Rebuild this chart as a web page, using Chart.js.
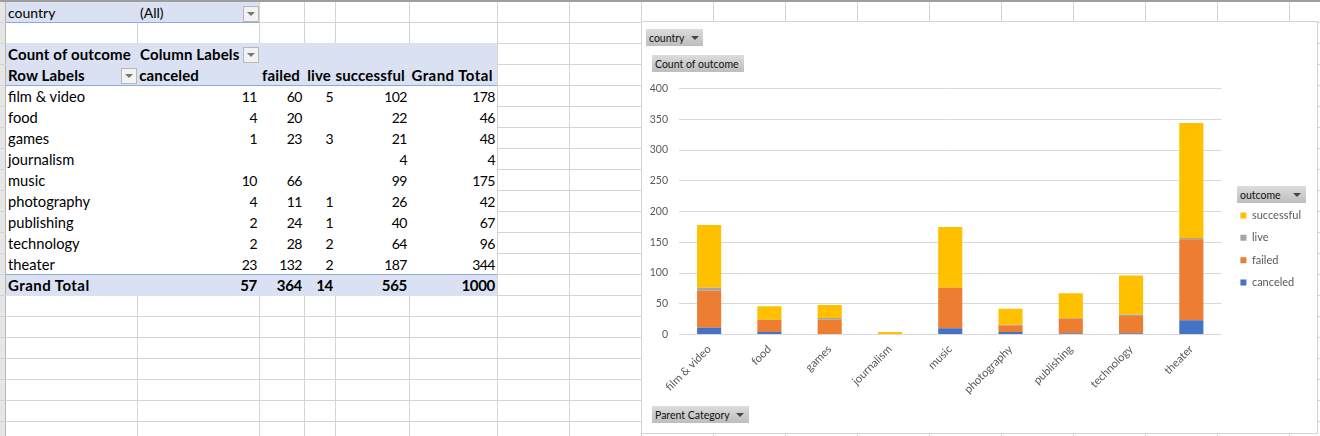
<!DOCTYPE html>
<html>
<head>
<meta charset="utf-8">
<script src="https://cdn.jsdelivr.net/npm/chart.js@4"></script>
<style>
  html, body { margin: 0; padding: 0; background: #fff; }
  body { width: 1320px; height: 436px; overflow: hidden; position: relative; font-family: Lato, sans-serif; }
  .abs { position: absolute; }
  .line { position: absolute; background: #d4d4d4; }
  .cell { position: absolute; height: 21px; line-height: 21px; font-size: 14.7px; color: #000; white-space: nowrap; }
  .cell.b { font-weight: 700; font-size: 15px; letter-spacing: .15px; }
  .cell.w { letter-spacing: .45px; }
  .cell.n { font-size: 14px; letter-spacing: -.5px; }
  .cell.r { text-align: right; }
  .dd { position: absolute; width: 14px; height: 14px; background: #f2f2f2; border: 1px solid #b8b8b8; }
  .dd:after { content: ''; position: absolute; left: 3px; top: 5px; border: 4px solid transparent; border-top: 4px solid #777; }
  .btn { position: absolute; box-sizing: border-box; height: 17px; line-height: 18px; font-size: 10.5px; color: #111; background: linear-gradient(#dcdcdc, #bdbdbd); padding-left: 3px; white-space: nowrap; }
  .btn i { position: absolute; top: 7px; border: 4px solid transparent; border-top: 4px solid #444; }
  #panel { position: absolute; left: 641px; top: 21px; width: 675px; height: 411px; background: #fff; border: 1px solid #d4d4d4; }
  #wrap { position: absolute; left: 642px; top: 22px; width: 674px; height: 410px; }
</style>
</head>
<body>
<div id="sheet"></div>
<div id="panel"></div>
<div class="btn" style="left:646px;top:29px;width:57px">country<i style="left:45px"></i></div>
<div class="btn" style="left:652px;top:55px;width:92px">Count of outcome</div>
<div class="btn" style="left:652px;top:406px;width:97px">Parent Category<i style="left:84px"></i></div>
<div class="btn" style="left:1237px;top:186px;width:69px">outcome<i style="left:56px"></i></div>
<div id="wrap"><canvas id="chart"></canvas></div>
<script>
const categories = ['film & video', 'food', 'games', 'journalism', 'music', 'photography', 'publishing', 'technology', 'theater'];
const canceled = [11, 4, 1, null, 10, 4, 2, 2, 23];
const failed = [60, 20, 23, null, 66, 11, 24, 28, 132];
const live = [5, null, 3, null, null, 1, 1, 2, 2];
const successful = [102, 22, 21, 4, 99, 26, 40, 64, 187];
const rowTotals = [178, 46, 48, 4, 175, 42, 67, 96, 344];
const columnTotals = [57, 364, 14, 565, 1000];

// worksheet background
const sheet = document.getElementById('sheet');
function add(cls, style, text) {
  const d = document.createElement('div');
  d.className = cls;
  d.style.cssText = style;
  if (text !== undefined) d.textContent = text;
  sheet.appendChild(d);
}
add('abs', 'left:0;top:0;width:5px;height:436px;background:#e6e6e6;border-right:1px solid #b5b5b5');
for (let y = 22; y < 436; y += 21) add('line', `left:0;top:${y}px;width:1320px;height:1px`);
[137, 259, 304, 335, 409, 497, 569, 641, 713, 785, 857, 929, 1001, 1073, 1145, 1217, 1289].forEach(x => {
  add('line', `left:${x}px;top:2px;width:1px;height:434px`);
});
add('abs', 'left:0;top:0;width:1320px;height:2px;background:#9e9e9e');

// pivot table bands
add('abs', 'left:6px;top:2px;width:253px;height:20px;background:#d9e1f2;border-bottom:1px solid #8ea9db');
add('abs', 'left:6px;top:43px;width:491px;height:42px;background:#d9e1f2;border-bottom:1px solid #8ea9db');
add('abs', 'left:6px;top:86px;width:491px;height:188px;background:#fff');
add('abs', 'left:6px;top:274px;width:491px;height:21px;background:#d9e1f2;border-top:1px solid #8ea9db');

const headerRight = [199, 300, 331, 405, 493];
const colRight = [257, 302, 333, 407, 495];
add('cell', 'left:8px;top:2px;font-size:14px', 'country');
add('cell', 'left:140px;top:2px;font-size:14px', '(All)');
add('dd', 'left:243px;top:6px');
add('cell b', 'left:8px;top:44px', 'Count of outcome');
add('cell b', 'left:140px;top:44px', 'Column Labels');
add('dd', 'left:243px;top:47px');
add('cell b', 'left:8px;top:65px', 'Row Labels');
add('dd', 'left:121px;top:68px');
['canceled', 'failed', 'live', 'successful', 'Grand Total'].forEach((t, i) => {
  add('cell b r' + (i === 4 ? ' w' : ''), `right:${1320 - headerRight[i]}px;top:65px`, t);
});
categories.forEach((name, i) => {
  const top = 86 + i * 21;
  add('cell', `left:8px;top:${top}px`, name);
  [canceled[i], failed[i], live[i], successful[i], rowTotals[i]].forEach((v, j) => {
    if (v !== null) add('cell n r', `right:${1320 - colRight[j]}px;top:${top}px`, v);
  });
});
add('cell b w', 'left:8px;top:275px', 'Grand Total');
columnTotals.forEach((v, j) => add('cell b r', `right:${1320 - colRight[j]}px;top:275px;letter-spacing:-.3px`, v));

// legend sits lower and further right than the layout puts it
const legendShift = {
  id: 'legendShift',
  afterLayout(chart) {
    const l = chart.legend;
    const w = l.right - l.left;
    const h = l.bottom - l.top;
    l.left = 587;
    l.right = l.left + w;
    l.top = 249 - 22 - h / 2;
    l.bottom = l.top + h;
  }
};

// chart
const bar = (label, data, color) => ({ label, data, backgroundColor: color, stack: 's', categoryPercentage: 1, barPercentage: 0.4 });
new Chart(document.getElementById('chart'), {
  type: 'bar',
  plugins: [legendShift],
  data: {
    labels: categories,
    datasets: [
      bar('canceled', canceled, '#4472c4'),
      bar('failed', failed, '#ed7d31'),
      bar('live', live, '#a5a5a5'),
      bar('successful', successful, '#ffc000')
    ]
  },
  options: {
    responsive: true,
    maintainAspectRatio: false,
    animation: false,
    layout: { padding: { top: 66.5, right: 12.5, bottom: 0, left: 0 } },
    scales: {
      x: {
        stacked: true,
        grid: { display: false },
        border: { color: '#d9d9d9' },
        ticks: { color: '#595959', font: { family: 'Lato', size: 11.2 }, maxRotation: 45, minRotation: 45, autoSkip: false, padding: 0 },
        afterFit: s => { s.height = 97.5; }
      },
      y: {
        stacked: true,
        min: 0,
        max: 400,
        grid: { color: '#d9d9d9', drawTicks: false },
        border: { display: false },
        ticks: { color: '#595959', font: { family: 'Lato', size: 10.5 }, stepSize: 50, padding: 11 },
        afterFit: s => { s.width = 37; }
      }
    },
    plugins: {
      tooltip: { enabled: false },
      legend: {
        position: 'right',
        reverse: true,
        labels: { boxWidth: 6, boxHeight: 6, padding: 11.4, color: '#595959', font: { family: 'Lato', size: 11 } }
      }
    }
  }
});
</script>
</body>
</html>
